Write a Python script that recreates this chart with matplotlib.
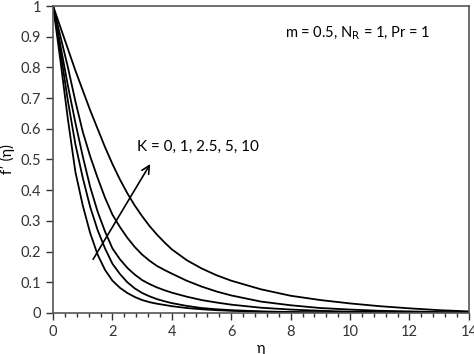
import matplotlib
matplotlib.use("Agg")
import matplotlib.pyplot as plt
from matplotlib.ticker import MultipleLocator

plt.rcParams['font.family'] = ['Lato', 'DejaVu Sans']

# similarity variable eta and velocity profiles f'(eta) for each K
eta = [0, 0.25, 0.5, 0.75, 1, 1.25, 1.5, 1.75, 2, 2.25, 2.5, 2.75, 3, 3.25, 3.5, 3.75, 4,
       4.5, 5, 5.5, 6, 7, 8, 9, 10, 11, 12, 13, 14]
f_k0 = [1, 0.82, 0.63, 0.46, 0.35, 0.26, 0.19, 0.14, 0.105, 0.082, 0.065, 0.052, 0.042, 0.035,
        0.030, 0.026, 0.022, 0.016, 0.012, 0.009, 0.007, 0.004, 0.002, 0.001, 0.001, 0, 0, 0, 0]
f_k1 = [1, 0.85, 0.69, 0.55, 0.44, 0.345, 0.27, 0.21, 0.16, 0.127, 0.10, 0.08, 0.065, 0.054,
        0.045, 0.038, 0.032, 0.023, 0.016, 0.012, 0.009, 0.005, 0.003, 0.002, 0.001, 0, 0, 0, 0]
f_k25 = [1, 0.87, 0.74, 0.62, 0.51, 0.41, 0.33, 0.265, 0.21, 0.175, 0.147, 0.125, 0.107, 0.094,
         0.083, 0.074, 0.066, 0.053, 0.042, 0.034, 0.027, 0.017, 0.011, 0.007, 0.004, 0.003,
         0.002, 0.001, 0.001]
f_k5 = [1, 0.90, 0.80, 0.69, 0.59, 0.51, 0.44, 0.375, 0.32, 0.28, 0.245, 0.215, 0.19, 0.17,
        0.153, 0.14, 0.128, 0.105, 0.086, 0.07, 0.057, 0.037, 0.025, 0.016, 0.011, 0.007,
        0.005, 0.003, 0.002]
f_k10 = [1, 0.93, 0.86, 0.79, 0.725, 0.66, 0.60, 0.54, 0.485, 0.435, 0.39, 0.35, 0.315, 0.283,
         0.255, 0.23, 0.207, 0.172, 0.145, 0.123, 0.105, 0.077, 0.056, 0.042, 0.031, 0.022,
         0.015, 0.009, 0.005]
profiles = [f_k0, f_k1, f_k25, f_k5, f_k10]

fig = plt.figure(figsize=(4.74, 3.54), dpi=100)
ax = fig.add_axes([0.112, 0.116, 0.877, 0.867])

for f in profiles:
    ax.plot(eta, f, color='black', linewidth=1.3, solid_joinstyle='round')

ax.set_xlim(0, 14)
ax.set_ylim(0, 1)
ax.xaxis.set_major_locator(MultipleLocator(2))
ax.xaxis.set_minor_locator(MultipleLocator(0.4))
ax.set_yticks([0, 0.1, 0.2, 0.3, 0.4, 0.5, 0.6, 0.7, 0.8, 0.9, 1])
ax.set_yticklabels(['0', '0.1', '0.2', '0.3', '0.4', '0.5', '0.6', '0.7', '0.8', '0.9', '1'])
ax.tick_params(axis='both', which='major', direction='out', length=5, width=1,
               labelsize=10.5, colors='#333333')
ax.tick_params(axis='x', which='minor', direction='out', length=3, width=1, color='#333333')
for s in ax.spines.values():
    s.set_color('#555555')
    s.set_linewidth(1.2)

ax.set_xlabel('η', fontsize=10.5, labelpad=2)
ax.set_ylabel('f′ (η)', fontsize=10.5, labelpad=4)

# arrow showing increasing K
ax.annotate('', xy=(3.32, 0.493), xytext=(1.3, 0.167),
            arrowprops=dict(arrowstyle='->', color='black', lw=1.2, mutation_scale=14))
ax.text(2.84, 0.54, 'K = 0, 1, 2.5, 5, 10', fontsize=11, va='center', ha='left')
ax.text(7.8, 0.912, 'm = 0.5, N$_\\mathrm{R}$ = 1, Pr = 1', fontsize=10.5, va='center', ha='left')

fig.savefig('out.png', dpi=100)
